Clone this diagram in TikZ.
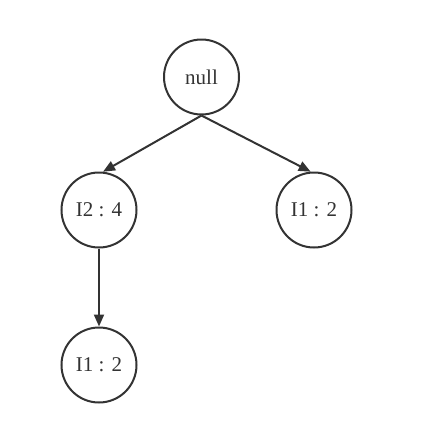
\documentclass[tikz,border=0pt]{standalone}
\usepackage{fontspec}
\setmainfont{Liberation Serif}
\usetikzlibrary{arrows.meta}
\definecolor{inkgray}{HTML}{333333}
\begin{document}
\begin{tikzpicture}[x=1pt, y=-1pt,
		treenode/.style={circle, draw=inkgray, line width=2pt, minimum size=75pt, inner sep=0pt, text=inkgray, font=\fontsize{21}{24}\selectfont},
		treeedge/.style={draw=inkgray, line width=2pt, -{Triangle[length=12pt, width=10pt]}}]
	\useasboundingbox (0,0) rectangle (436,437);
	\node[treenode] (root) at (201.5,77) {null};
	\node[treenode] (itwo) at (99,210) {I2 : 4};
	\node[treenode] (ione) at (314,210) {I1 : 2};
	\node[treenode] (ionelow) at (99,365) {I1 : 2};
	\draw[treeedge] (root.south) -- (itwo.84);
	\draw[treeedge] (root.south) -- (ione.95);
	\draw[treeedge] (itwo.south) -- (ionelow.north);
\end{tikzpicture}
\end{document}
